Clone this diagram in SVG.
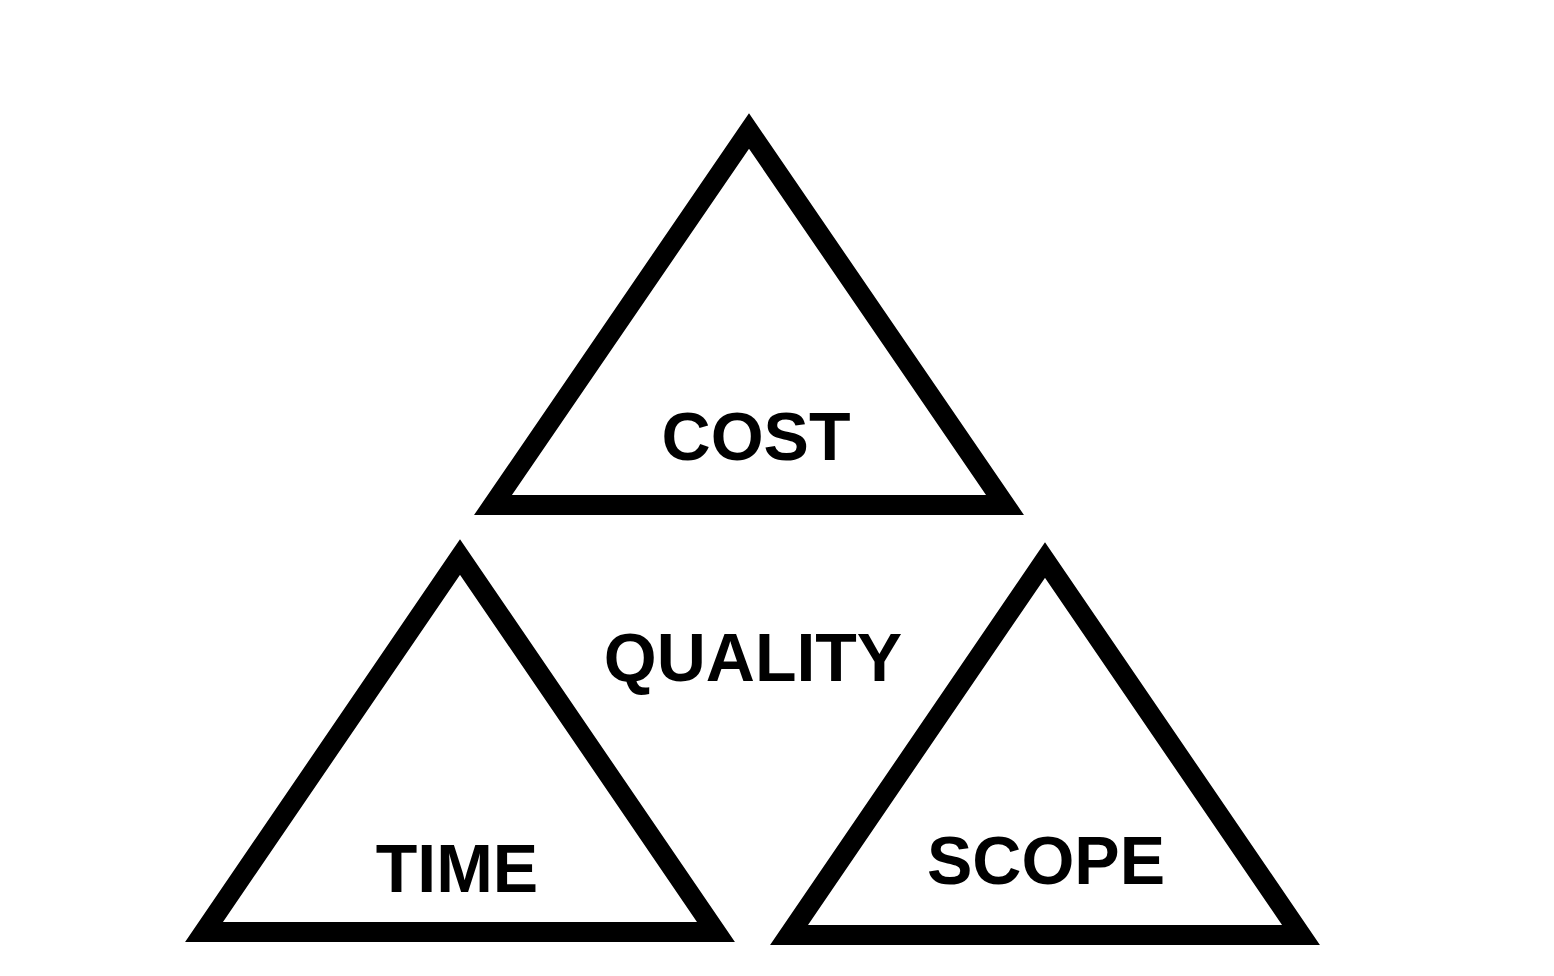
<svg xmlns="http://www.w3.org/2000/svg" width="1554" height="976" viewBox="0 0 1554 976">
<style>
.tri{fill:none;stroke:#000;stroke-width:20;stroke-linejoin:miter;stroke-miterlimit:10}
.lbl{font-family:"Liberation Sans",Arial,sans-serif;font-weight:bold;font-size:68px;fill:#000;text-anchor:middle}
</style>
<rect width="1554" height="976" fill="#fff"/>
<g id="cost">
<polygon class="tri" points="749,131 493,505 1005,505"/>
<text class="lbl" x="756" y="460">COST</text>
</g>
<g id="time">
<polygon class="tri" points="460,557 204,932 716,932"/>
<text class="lbl" x="457" y="892">TIME</text>
</g>
<g id="scope">
<polygon class="tri" points="1045,560 789,935 1301,935"/>
<text class="lbl" x="1046" y="884">SCOPE</text>
</g>
<g id="quality">
<text class="lbl" x="753" y="681">QUALITY</text>
</g>
<g id="connectors"></g>
</svg>
